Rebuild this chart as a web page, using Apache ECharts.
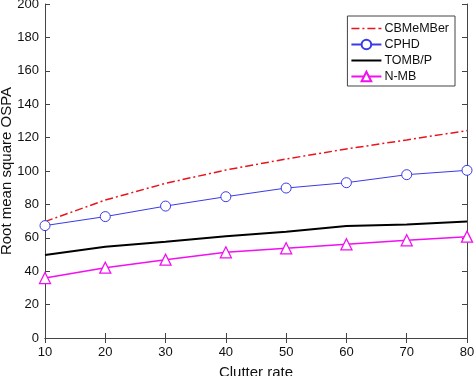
<!DOCTYPE html>
<html>
<head>
<meta charset="utf-8">
<script src="https://cdn.jsdelivr.net/npm/echarts@6/dist/echarts.min.js"></script>
<style>
  html, body { margin: 0; padding: 0; background: #fff; }
  #main { width: 474px; height: 376px; }
</style>
</head>
<body>
<div id="main"></div>
<script>
// clutter rate on the x axis
const clutterRate = [10, 20, 30, 40, 50, 60, 70, 80];
// root mean square OSPA for each filter
const cbmember = [69.7, 82.6, 92.6, 100.6, 107.2, 113.2, 118.6, 124.2];
const cphd = [67.3, 72.7, 79.0, 84.6, 89.8, 93.0, 97.8, 100.4];
const tombp = [49.7, 54.7, 57.7, 61.0, 63.6, 67.0, 68.0, 69.7];
const nmb = [35.9, 42.1, 46.9, 51.3, 53.7, 56.1, 58.5, 60.7];

const pairs = (ys) => clutterRate.map((x, i) => [x, ys[i]]);

const chart = echarts.init(document.getElementById('main'));
const font = 'Liberation Sans, Arial, sans-serif';
const axisColor = '#444';

// legend icons for the two series without markers (plain line / dash-dot line)
const solidIcon = 'path://M0,0H30V2H0Z';
const dashDotIcon = 'path://M0,0H8V1.5H0Z M11,0H13V1.5H11Z M16,0H24V1.5H16Z M27,0H30V1.5H27Z';

const baseAxis = {
  axisLine: { show: true, lineStyle: { color: axisColor, width: 1 } },
  axisTick: { show: true, inside: true, length: 5, lineStyle: { color: axisColor } },
  splitLine: { show: false },
};

let option = {
  backgroundColor: '#fff',
  animation: false,
  textStyle: { fontFamily: font },
  grid: { left: 45, right: 7, top: 4, bottom: 38, containLabel: false, outerBoundsMode: 'none' },
  legend: {
    right: 19,
    top: 16,
    orient: 'vertical',
    backgroundColor: '#fff',
    borderColor: '#444',
    borderWidth: 1,
    borderRadius: 0,
    padding: [6, 6, 3, 3],
    itemGap: 3,
    itemWidth: 30,
    itemHeight: 12,
    textStyle: { fontSize: 12.5, color: '#111', fontFamily: font, padding: [0, 0, 0, -2] },
    data: [
      { name: 'CBMeMBer', icon: dashDotIcon },
      { name: 'CPHD' },
      { name: 'TOMB/P', icon: solidIcon },
      { name: 'N-MB' },
    ],
  },
  xAxis: [
    Object.assign({}, baseAxis, {
      type: 'value', min: 10, max: 80, interval: 10,
      name: 'Clutter rate', nameLocation: 'middle', nameGap: 27, nameMoveOverlap: false,
      nameTextStyle: { fontSize: 15, color: '#111', fontFamily: font },
      axisLabel: { fontSize: 13, color: '#111', margin: 8, fontFamily: font },
    }),
    Object.assign({}, baseAxis, {
      type: 'value', min: 10, max: 80, interval: 10, position: 'top',
      axisLabel: { show: false },
    }),
  ],
  yAxis: [
    Object.assign({}, baseAxis, {
      type: 'value', min: 0, max: 200, interval: 20,
      name: 'Root mean square OSPA', nameLocation: 'middle', nameGap: 31, nameMoveOverlap: false,
      nameTextStyle: { fontSize: 15, color: '#111', fontFamily: font },
      axisLabel: { fontSize: 13, color: '#111', margin: 6, fontFamily: font },
    }),
    Object.assign({}, baseAxis, {
      type: 'value', min: 0, max: 200, interval: 20, position: 'right',
      axisLabel: { show: false },
    }),
  ],
  series: [
    {
      name: 'CBMeMBer', type: 'line', data: pairs(cbmember),
      showSymbol: false, symbol: 'none',
      lineStyle: { color: '#e8141c', width: 1.5, type: [8, 3, 2, 3] },
      itemStyle: { color: '#e8141c' },
    },
    {
      name: 'CPHD', type: 'line', data: pairs(cphd),
      symbol: 'circle', symbolSize: 10,
      lineStyle: { color: '#3a3ae8', width: 1 },
      itemStyle: { color: '#fff', borderColor: '#3a3ae8', borderWidth: 1 },
    },
    {
      name: 'TOMB/P', type: 'line', data: pairs(tombp),
      showSymbol: false, symbol: 'none',
      lineStyle: { color: '#000', width: 2 },
      itemStyle: { color: '#000' },
    },
    {
      name: 'N-MB', type: 'line', data: pairs(nmb),
      symbol: 'triangle', symbolSize: 11,
      lineStyle: { color: '#f010f0', width: 1.5 },
      itemStyle: { color: '#fff', borderColor: '#f010f0', borderWidth: 1.3 },
    },
  ],
};
chart.setOption(option);
</script>
</body>
</html>
